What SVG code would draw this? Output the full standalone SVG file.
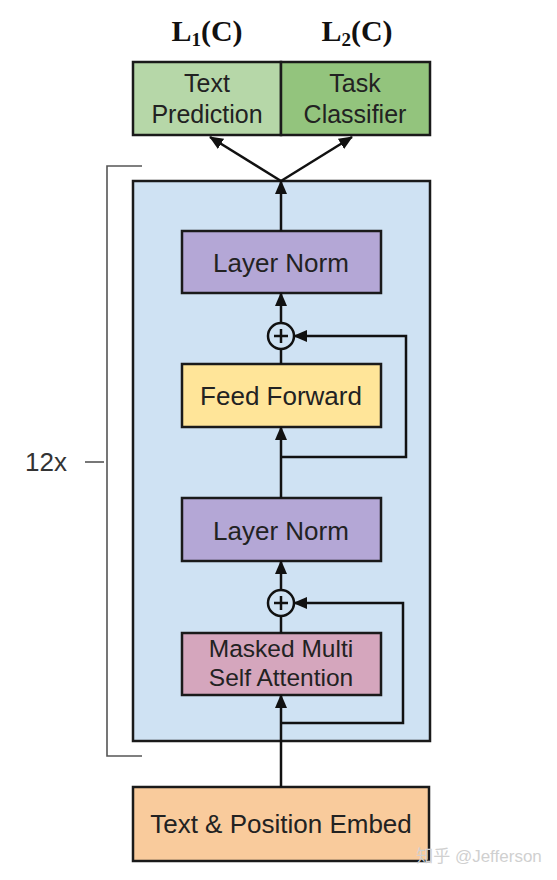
<svg xmlns="http://www.w3.org/2000/svg" width="557" height="880" viewBox="0 0 557 880">
<style>
.box{stroke:#1a1a1a;stroke-width:2.5}
.lbl{font-family:"Liberation Sans",Arial,sans-serif;fill:#222;text-anchor:middle}
.conn{fill:none;stroke:#111;stroke-width:2.5}
.loss{font-family:"Liberation Serif","Times New Roman",serif;font-weight:bold;font-size:30px;fill:#111;text-anchor:middle}
</style>
<defs>
<marker id="ah" markerUnits="userSpaceOnUse" markerWidth="14" markerHeight="12" viewBox="0 0 14 12" refX="13" refY="6" orient="auto">
<path d="M0,0 L14,6 L0,12 z" fill="#111"/>
</marker>
</defs>
<rect width="557" height="880" fill="#ffffff"/>

<g id="bracket" stroke="#555" stroke-width="1.6" fill="none">
<path d="M142,166 H107 V756 H142"/>
<path d="M85,462 H104"/>
</g>
<text x="46" y="471" font-family="Liberation Sans,Arial,sans-serif" font-size="26" fill="#333" text-anchor="middle">12x</text>

<g id="decoder-block">
<rect class="box" x="133" y="181" width="297" height="560" fill="#cfe2f3"/>
</g>

<g id="losses">
<text class="loss" x="207" y="41">L<tspan font-size="19" dy="5">1</tspan><tspan dy="-5">(C)</tspan></text>
<text class="loss" x="357" y="41">L<tspan font-size="19" dy="5">2</tspan><tspan dy="-5">(C)</tspan></text>
</g>

<g id="text-prediction">
<rect class="box" x="133" y="62" width="148" height="73" fill="#b6d7a8"/>
<text class="lbl" x="207" y="92" style="font-size:25px">Text</text>
<text class="lbl" x="207" y="123" style="font-size:25px">Prediction</text>
</g>
<g id="task-classifier">
<rect class="box" x="281" y="62" width="149" height="73" fill="#93c47d"/>
<text class="lbl" x="355" y="92" style="font-size:25px">Task</text>
<text class="lbl" x="355" y="123" style="font-size:25px">Classifier</text>
</g>

<g id="layer-norm-1">
<rect class="box" x="182" y="231" width="199" height="62" fill="#b4a7d6"/>
<text class="lbl" x="281" y="272" style="font-size:26px">Layer Norm</text>
</g>
<g id="add-1">
<circle cx="281" cy="336" r="13" fill="none" stroke="#111" stroke-width="2.5"/>
<path d="M274,336 H288 M281,329 V343" stroke="#111" stroke-width="2.5"/>
</g>
<g id="feed-forward">
<rect class="box" x="182" y="364" width="199" height="63" fill="#ffe599"/>
<text class="lbl" x="281" y="405" style="font-size:26px">Feed Forward</text>
</g>
<g id="layer-norm-2">
<rect class="box" x="182" y="498" width="199" height="63" fill="#b4a7d6"/>
<text class="lbl" x="281" y="540" style="font-size:26px">Layer Norm</text>
</g>
<g id="add-2">
<circle cx="281" cy="603" r="13" fill="none" stroke="#111" stroke-width="2.5"/>
<path d="M274,603 H288 M281,596 V610" stroke="#111" stroke-width="2.5"/>
</g>
<g id="masked-attention">
<rect class="box" x="182" y="633" width="199" height="62" fill="#d5a6bd"/>
<text class="lbl" x="281" y="657" style="font-size:24.5px">Masked Multi</text>
<text class="lbl" x="281" y="686" style="font-size:24.5px">Self Attention</text>
</g>
<g id="embed">
<rect class="box" x="133" y="787" width="296" height="74" fill="#f9cb9c"/>
<text class="lbl" x="281" y="833" style="font-size:26px">Text &amp; Position Embed</text>
</g>

<g id="connectors">
<path class="conn" d="M281,787 V695" marker-end="url(#ah)"/>
<path class="conn" d="M281,723 H403 V603 H294" marker-end="url(#ah)"/>
<path class="conn" d="M281,633 V616"/>
<path class="conn" d="M281,590 V561" marker-end="url(#ah)"/>
<path class="conn" d="M281,498 V427" marker-end="url(#ah)"/>
<path class="conn" d="M281,457 H406 V336 H294" marker-end="url(#ah)"/>
<path class="conn" d="M281,364 V349"/>
<path class="conn" d="M281,323 V293" marker-end="url(#ah)"/>
<path class="conn" d="M281,231 V181" marker-end="url(#ah)"/>
<path class="conn" d="M281,181 L210,137" marker-end="url(#ah)"/>
<path class="conn" d="M281,181 L352,137" marker-end="url(#ah)"/>
</g>

<text x="479" y="862" font-family="Liberation Sans,'Noto Sans CJK SC',sans-serif" font-size="17" fill="#d0d0d0" text-anchor="middle">知乎 @Jefferson</text>
</svg>
